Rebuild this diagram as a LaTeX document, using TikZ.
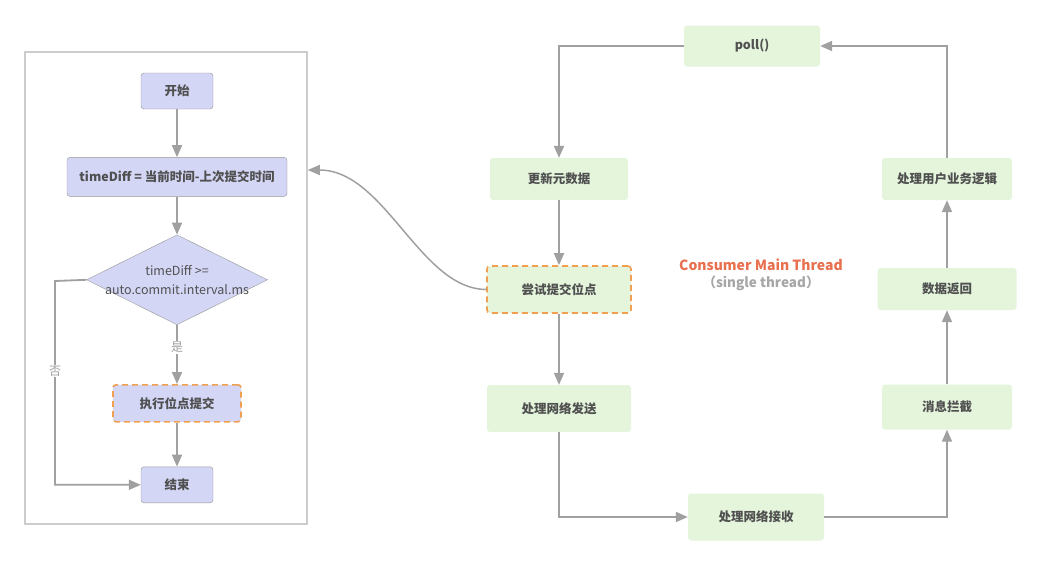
\documentclass[tikz,border=0pt]{standalone}
\usepackage{fontspec}
\setmainfont{Noto Sans CJK SC}
\usepackage{xcolor}
\usepackage{tikz}
\usetikzlibrary{arrows.meta,positioning,shapes.geometric}
\definecolor{lav}{RGB}{212,214,246}
\definecolor{leaf}{RGB}{228,245,220}
\definecolor{peach}{RGB}{240,160,80}
\definecolor{wire}{RGB}{160,160,160}
\definecolor{ink}{RGB}{80,80,80}
\definecolor{rim}{RGB}{150,150,150}
\definecolor{brick}{RGB}{232,112,79}
\tikzset{
  flowbox/.style={draw=rim, fill=lav, rounded corners=3pt, inner sep=0pt, align=center, font=\bfseries\fontsize{12.5}{15}\selectfont, text=ink},
  loopbox/.style={fill=leaf, rounded corners=3pt, inner sep=0pt, align=center, font=\bfseries\fontsize{12.5}{15}\selectfont, text=ink},
  hot/.style={draw=peach, line width=1.6pt, dash pattern=on 6pt off 4pt},
  edge/.style={-{Triangle[length=12pt,width=10pt]}, draw=wire, line width=1.8pt},
  tag/.style={fill=white, inner sep=1pt, font=\fontsize{12}{14}\selectfont, text=wire}
}
\begin{document}
\begin{tikzpicture}[x=1pt, y=-1pt,
    decision/.style={diamond, draw=rim, fill=lav, inner sep=0pt, minimum width=181pt, minimum height=90pt},
    panel/.style={draw=black!20, line width=1.5pt, minimum width=282pt, minimum height=472pt}
]
    \useasboundingbox (0,0) rectangle (1042,565);

    % Commit flow
    \node[panel] (frame) at (166,288) {};
    \node[flowbox, minimum width=72pt, minimum height=36pt] (start) at (177,91) {开始};
    \node[flowbox, below=48pt of start, minimum width=220pt, minimum height=39pt] (diff) {timeDiff = 当前时间-上次提交时间};
    \node[decision, below=38pt of diff, label={[align=center, font=\fontsize{12.5}{19}\selectfont, text=ink]center:timeDiff >=\\auto.commit.interval.ms}] (check) {};
    \node[flowbox, hot, below=59pt of check, minimum width=128pt, minimum height=37pt] (commit) {执行位点提交};
    \node[flowbox, below=44pt of commit, minimum width=72pt, minimum height=36pt] (finish) {结束};

    \draw[edge] (start) -- (diff);
    \draw[edge] (diff) -- (check);
    \draw[edge] (check) -- node[tag, pos=0.38] {是} (commit);
    \draw[edge] (commit) -- (finish);
    \coordinate (bend) at (55,281);
    \draw[edge] (check.west) -- (bend) |- (finish.west);
    \node[tag] (no) at (55,371) {否};

    % Consumer loop
    \node[loopbox, minimum width=136pt, minimum height=41pt] (poll) at (752,46) {poll()};
    \node[loopbox, minimum width=138pt, minimum height=42pt] (update) at (559,179) {更新元数据};
    \node[loopbox, hot, below=65pt of update, minimum width=144pt, minimum height=47pt] (try) {尝试提交位点};
    \node[loopbox, below=71pt of try, minimum width=144pt, minimum height=47pt] (send) {处理网络发送};
    \node[loopbox, minimum width=136pt, minimum height=47pt] (recv) at (756,517) {处理网络接收};
    \node[loopbox, minimum width=130pt, minimum height=45pt] (intercept) at (947,407) {消息拦截};
    \node[loopbox, minimum width=139pt, minimum height=42pt] (back) at (947,289) {数据返回};
    \node[loopbox, minimum width=130pt, minimum height=42pt] (logic) at (947,179) {处理用户业务逻辑};

    \draw[edge] (poll.west) -| (update.north);
    \draw[edge] (update) -- (try);
    \draw[edge] (try) -- (send);
    \draw[edge] (send.south) |- (recv.west);
    \draw[edge] (recv.east) -| (intercept.south);
    \draw[edge] (intercept) -- (back);
    \draw[edge] (back) -- (logic);
    \draw[edge] (logic.north) |- (poll.east);

    % Hook into the commit flow
    \coordinate (hook) at (frame.east |- 0,170);
    \draw[edge, line width=1.5pt] (try.west) .. controls (420,289) and (385,170) .. (hook);

    % Title
    \node[font=\bfseries\fontsize{14}{16}\selectfont, text=brick] (title) at (761,265) {Consumer Main Thread};
    \node[below=1pt of title, font=\bfseries\fontsize{13.5}{15}\selectfont, text=black!35, inner sep=0pt] (sub) {（single thread）};
\end{tikzpicture}
\end{document}
